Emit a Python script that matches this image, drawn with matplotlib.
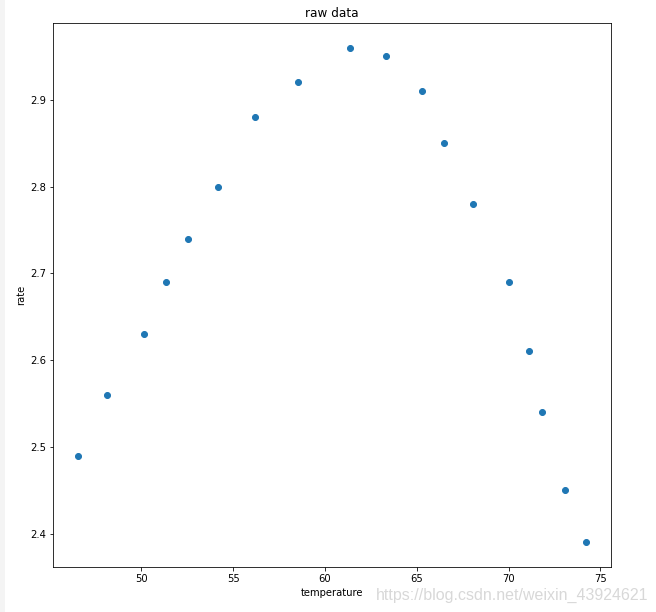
import matplotlib; matplotlib.use("Agg")
import matplotlib.pyplot as plt

# temperature vs rate
temperature = [46.57, 48.15, 50.16, 51.36, 52.56, 54.2, 56.21, 58.56, 61.39,
               63.35, 65.31, 66.46, 68.04, 70.0, 71.09, 71.85, 73.05, 74.2]
rate = [2.49, 2.56, 2.63, 2.69, 2.74, 2.80, 2.88, 2.92, 2.96,
        2.95, 2.91, 2.85, 2.78, 2.69, 2.61, 2.54, 2.45, 2.39]

fig = plt.figure(figsize=(656 / 72, 612 / 72), dpi=72)
ax = fig.add_axes([53 / 656, 45 / 612, 558 / 656, 544 / 612])
ax.scatter(temperature, rate)
ax.set_title("raw data")
ax.set_xlabel("temperature")
ax.set_ylabel("rate")

# thin grey strip on the left edge of the screenshot
fig.patches.append(plt.Rectangle((0, 0), 4 / 656, 1, transform=fig.transFigure,
                                 color="#f4f4f4", zorder=0))
fig.text(648 / 656, 12 / 612, "https://blog.csdn.net/weixin_43924621",
         ha="right", va="baseline", fontsize=16, family="Liberation Sans",
         color="#d8d8d8")

fig.savefig("out.png", dpi=72)
